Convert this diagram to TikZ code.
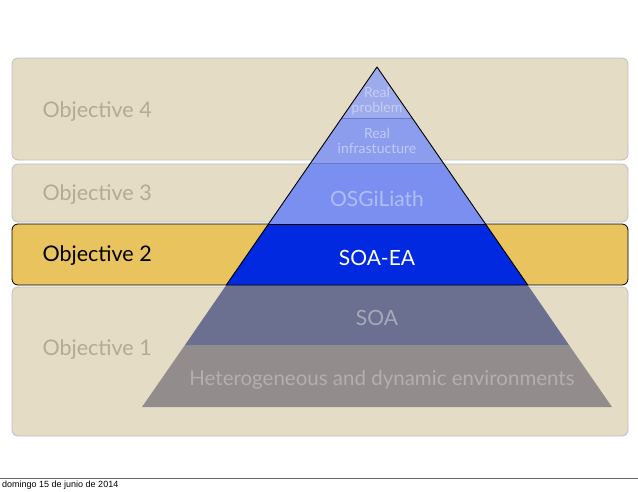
\documentclass[tikz,border=0pt]{standalone}
\usepackage{fontspec}
\setmainfont{Lato}
\setsansfont{Liberation Sans}
\begin{document}
\begin{tikzpicture}[x=1pt,y=-1pt,
  band/.style={rounded corners=6pt,draw=black!25,line width=0.8pt,fill=bandc},
  obj/.style={anchor=west,font=\fontsize{21.5}{23}\selectfont,text=objc},
  lab/.style={font=\fontsize{14}{15}\selectfont,text=#1,align=center,inner sep=0pt}]
\definecolor{bandc}{HTML}{E5DCC5}
\definecolor{objc}{HTML}{B5AA92}
\definecolor{yel}{HTML}{E8C35E}
\definecolor{c1}{HTML}{9DABEC}
\definecolor{c2}{HTML}{8C9DEE}
\definecolor{c3}{HTML}{7B8FF0}
\definecolor{c4}{HTML}{0029E0}
\definecolor{c5}{HTML}{6B7090}
\definecolor{c6}{HTML}{928D8C}
\useasboundingbox[fill=white] (0,0) rectangle (638,491);
\draw[band] (12,58) rectangle (628,160);
\draw[band] (12,164) rectangle (628,222);
\draw[band] (12,287) rectangle (628,436);
\draw[rounded corners=6pt,draw=black,line width=0.8pt,fill=yel] (12,224) rectangle (628,285);
\node[obj] (o4) at (39,112) {Objective 4};
\node[obj] (o3) at (39,195) {Objective 3};
\node[obj,text=black] (o2) at (39,256) {Objective 2};
\node[obj] (o1) at (39,350) {Objective 1};
% pyramid
\fill[c6] (185,345) -- (569,345) -- (612,407) -- (142,407) -- cycle;
\fill[c5] (226.3,285) -- (527.7,285) -- (569,345) -- (185,345) -- cycle;
\fill[c4] (268.5,224) -- (485.5,224) -- (527.7,285) -- (226.3,285) -- cycle;
\fill[c3] (310.6,163) -- (443.4,163) -- (485.5,224) -- (268.5,224) -- cycle;
\fill[c2] (341.8,118) -- (412.2,118) -- (443.4,163) -- (310.6,163) -- cycle;
\fill[c1] (377,67) -- (412.2,118) -- (341.8,118) -- cycle;
\draw[c3!85!black,line width=0.5pt] (341.8,118) -- (412.2,118) (310.6,163) -- (443.4,163);
\draw[black,line width=0.9pt,line join=round] (377,67) -- (226.3,285) -- (527.7,285) -- cycle;
\draw[black,line width=0.9pt] (268.5,224) -- (485.5,224);
\node[lab=c1!60!white] (rp) at (377,101) {Real\\problem};
\node[lab=c2!55!white] (ri) at (377,141) {Real\\infrastucture};
\node[font=\fontsize{21}{23}\selectfont,text=c3!60!white] (os) at (377,199) {OSGiLiath};
\node[font=\fontsize{21}{23}\selectfont,text=white] (se) at (377,258) {SOA-EA};
\node[font=\fontsize{21}{23}\selectfont,text=c5!60!white] (soa) at (377,318) {SOA};
\node[font=\fontsize{20.5}{23}\selectfont,text=c6!70!white] (he) at (382,380) {Heterogeneous and dynamic environments};
\draw[black!60,line width=0.5pt] (0,478) -- (638,478);
\node[anchor=west,font=\sffamily\fontsize{9}{10}\selectfont,inner sep=0pt] (dt) at (2,485) {domingo 15 de junio de 2014};
\end{tikzpicture}
\end{document}
